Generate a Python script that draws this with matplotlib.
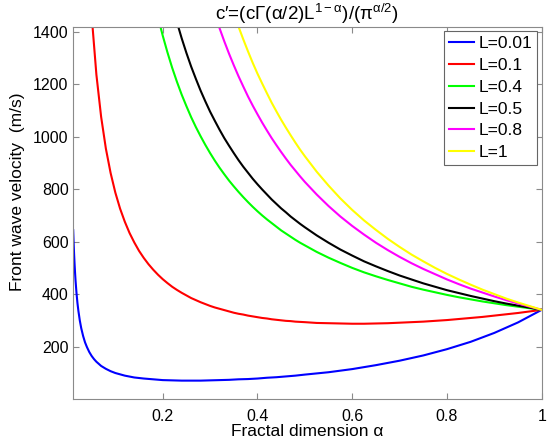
import matplotlib
matplotlib.use('Agg')
import matplotlib.pyplot as plt

plt.rcParams['font.family'] = ['Liberation Sans', 'DejaVu Sans']
plt.rcParams['mathtext.fontset'] = 'custom'
plt.rcParams['mathtext.rm'] = 'Liberation Sans'
plt.rcParams['mathtext.it'] = 'Liberation Sans'
plt.rcParams['mathtext.default'] = 'regular'

AXIS_GRAY = '#8a8a8a'

# fractal dimension alpha for the L=0.01 curve (dense near the left edge)
alpha_low = [0.011, 0.012, 0.013, 0.014, 0.015, 0.016, 0.018, 0.02, 0.022, 0.025,
             0.028, 0.032, 0.036, 0.04, 0.045, 0.05, 0.055, 0.06, 0.07, 0.08,
             0.09, 0.10, 0.12, 0.14, 0.16, 0.18, 0.20, 0.22, 0.24, 0.26,
             0.28, 0.30, 0.32, 0.34, 0.36, 0.38, 0.40, 0.42, 0.44, 0.46,
             0.48, 0.50, 0.55, 0.60, 0.65, 0.70, 0.75, 0.80, 0.85, 0.90,
             0.95, 1.00]

# fractal dimension alpha for the other curves (each uses the tail of it)
alpha = [0.05, 0.06, 0.07, 0.08, 0.09, 0.10, 0.11, 0.12, 0.13, 0.14,
         0.15, 0.16, 0.17, 0.18, 0.19, 0.20, 0.21, 0.22, 0.23, 0.24,
         0.25, 0.26, 0.27, 0.28, 0.29, 0.30, 0.31, 0.32, 0.33, 0.34,
         0.35, 0.36, 0.37, 0.38, 0.39, 0.40, 0.41, 0.42, 0.43, 0.44,
         0.45, 0.46, 0.47, 0.48, 0.49, 0.50, 0.525, 0.55, 0.575, 0.60,
         0.625, 0.65, 0.675, 0.70, 0.725, 0.75, 0.775, 0.80, 0.825, 0.85,
         0.875, 0.90, 0.925, 0.95, 0.975, 1.00]

# front wave velocity (m/s)
v_L001 = [644, 593, 549, 512, 480, 451, 404, 366, 336, 299, 270, 240, 216, 198,
          179, 164, 152, 142, 126, 115, 106, 99, 89, 82, 78, 75, 72, 71, 70, 70,
          70, 71, 72, 73, 75, 76, 78, 81, 83, 86, 89, 93, 102, 114, 129, 146,
          166, 190, 218, 252, 292, 340]
v_L01 = [1462, 1237, 1076, 955, 862, 787, 726, 676, 633, 597, 565, 538, 514, 493,
         474, 457, 442, 428, 416, 405, 395, 385, 377, 369, 362, 355, 349, 344,
         339, 334, 329, 325, 322, 318, 315, 312, 309, 307, 304, 302, 300, 298,
         297, 295, 294, 293, 290, 289, 288, 287, 287, 288, 289, 291, 293, 295,
         298, 301, 305, 309, 313, 318, 323, 328, 334, 340]
v_L04 = [1457, 1386, 1322, 1263, 1210, 1161, 1117, 1075, 1037, 1002, 969, 938,
         909, 882, 857, 833, 811, 790, 770, 751, 733, 716, 700, 685, 671, 657,
         643, 631, 619, 607, 596, 586, 561, 539, 519, 500, 483, 468, 454, 441,
         428, 417, 407, 397, 388, 380, 372, 365, 358, 352, 346, 340]
v_L05 = [1437, 1376, 1320, 1268, 1221, 1176, 1135, 1096, 1061, 1027, 995, 966,
         938, 911, 886, 863, 840, 819, 799, 780, 761, 744, 727, 712, 696, 682,
         668, 655, 624, 596, 570, 547, 525, 506, 488, 471, 456, 441, 428, 415,
         404, 393, 383, 373, 364, 356, 348, 340]
v_L08 = [1467, 1414, 1364, 1317, 1273, 1231, 1192, 1154, 1119, 1086, 1054, 1024,
         995, 968, 942, 917, 893, 871, 849, 828, 780, 736, 696, 660, 627, 596,
         568, 542, 518, 496, 476, 456, 438, 421, 406, 391, 377, 364, 352, 340]
v_L1 = [1471, 1420, 1372, 1326, 1282, 1241, 1203, 1166, 1130, 1097, 1065, 1035,
        1006, 978, 951, 926, 867, 814, 765, 721, 681, 645, 611, 580, 551, 525,
        500, 477, 456, 436, 417, 400, 383, 368, 354, 340]

series = [('L=0.01', alpha_low, v_L001, '#0000ff'),
          ('L=0.1', alpha[-len(v_L01):], v_L01, '#ff0000'),
          ('L=0.4', alpha[-len(v_L04):], v_L04, '#00ff00'),
          ('L=0.5', alpha[-len(v_L05):], v_L05, '#000000'),
          ('L=0.8', alpha[-len(v_L08):], v_L08, '#ff00ff'),
          ('L=1', alpha[-len(v_L1):], v_L1, '#ffff00')]

x_ticks = [0.2, 0.4, 0.6, 0.8, 1]
x_tick_labels = ['0.2', '0.4', '0.6', '0.8', '1']
y_ticks = [200, 400, 600, 800, 1000, 1200, 1400]

fig = plt.figure(figsize=(5.5, 4.44), dpi=100, facecolor='white')
ax = fig.add_axes([0.1322, 0.1014, 0.8527, 0.8385])

for label, x, v, color in series:
    ax.plot(x, v, color=color, linewidth=1.5, label=label)

ax.set_xlim(0.01, 1)
ax.set_ylim(0, 1420)
ax.set_xticks(x_ticks)
ax.set_xticklabels(x_tick_labels)
ax.set_yticks(y_ticks)

for side in ['top', 'bottom', 'left', 'right']:
    ax.spines[side].set_color(AXIS_GRAY)
    ax.spines[side].set_linewidth(0.8)
ax.tick_params(direction='in', length=4, width=0.8, color=AXIS_GRAY,
               labelsize=11.5, top=True, right=True)
ax.tick_params(axis='x', pad=7)
ax.tick_params(axis='y', pad=3)

ax.set_title("c′=(cΓ(α/2)L$^{1-α}$)/(π$^{α/2}$)", fontsize=13.5, pad=5)
ax.set_xlabel('Fractal dimension α', fontsize=12.5, labelpad=0)
ax.set_ylabel('Front wave velocity  (m/s)', fontsize=12.5)
ax.yaxis.set_label_coords(-0.102, 0.556)

leg = ax.legend(loc='upper right', fontsize=12.5, frameon=True, fancybox=False,
                framealpha=1, edgecolor='#666666', borderaxespad=0.25,
                handlelength=1.45, handletextpad=0.25, labelspacing=0.38,
                borderpad=0.3)
leg.get_frame().set_linewidth(0.8)

fig.savefig('out.png', dpi=100, facecolor='white')
